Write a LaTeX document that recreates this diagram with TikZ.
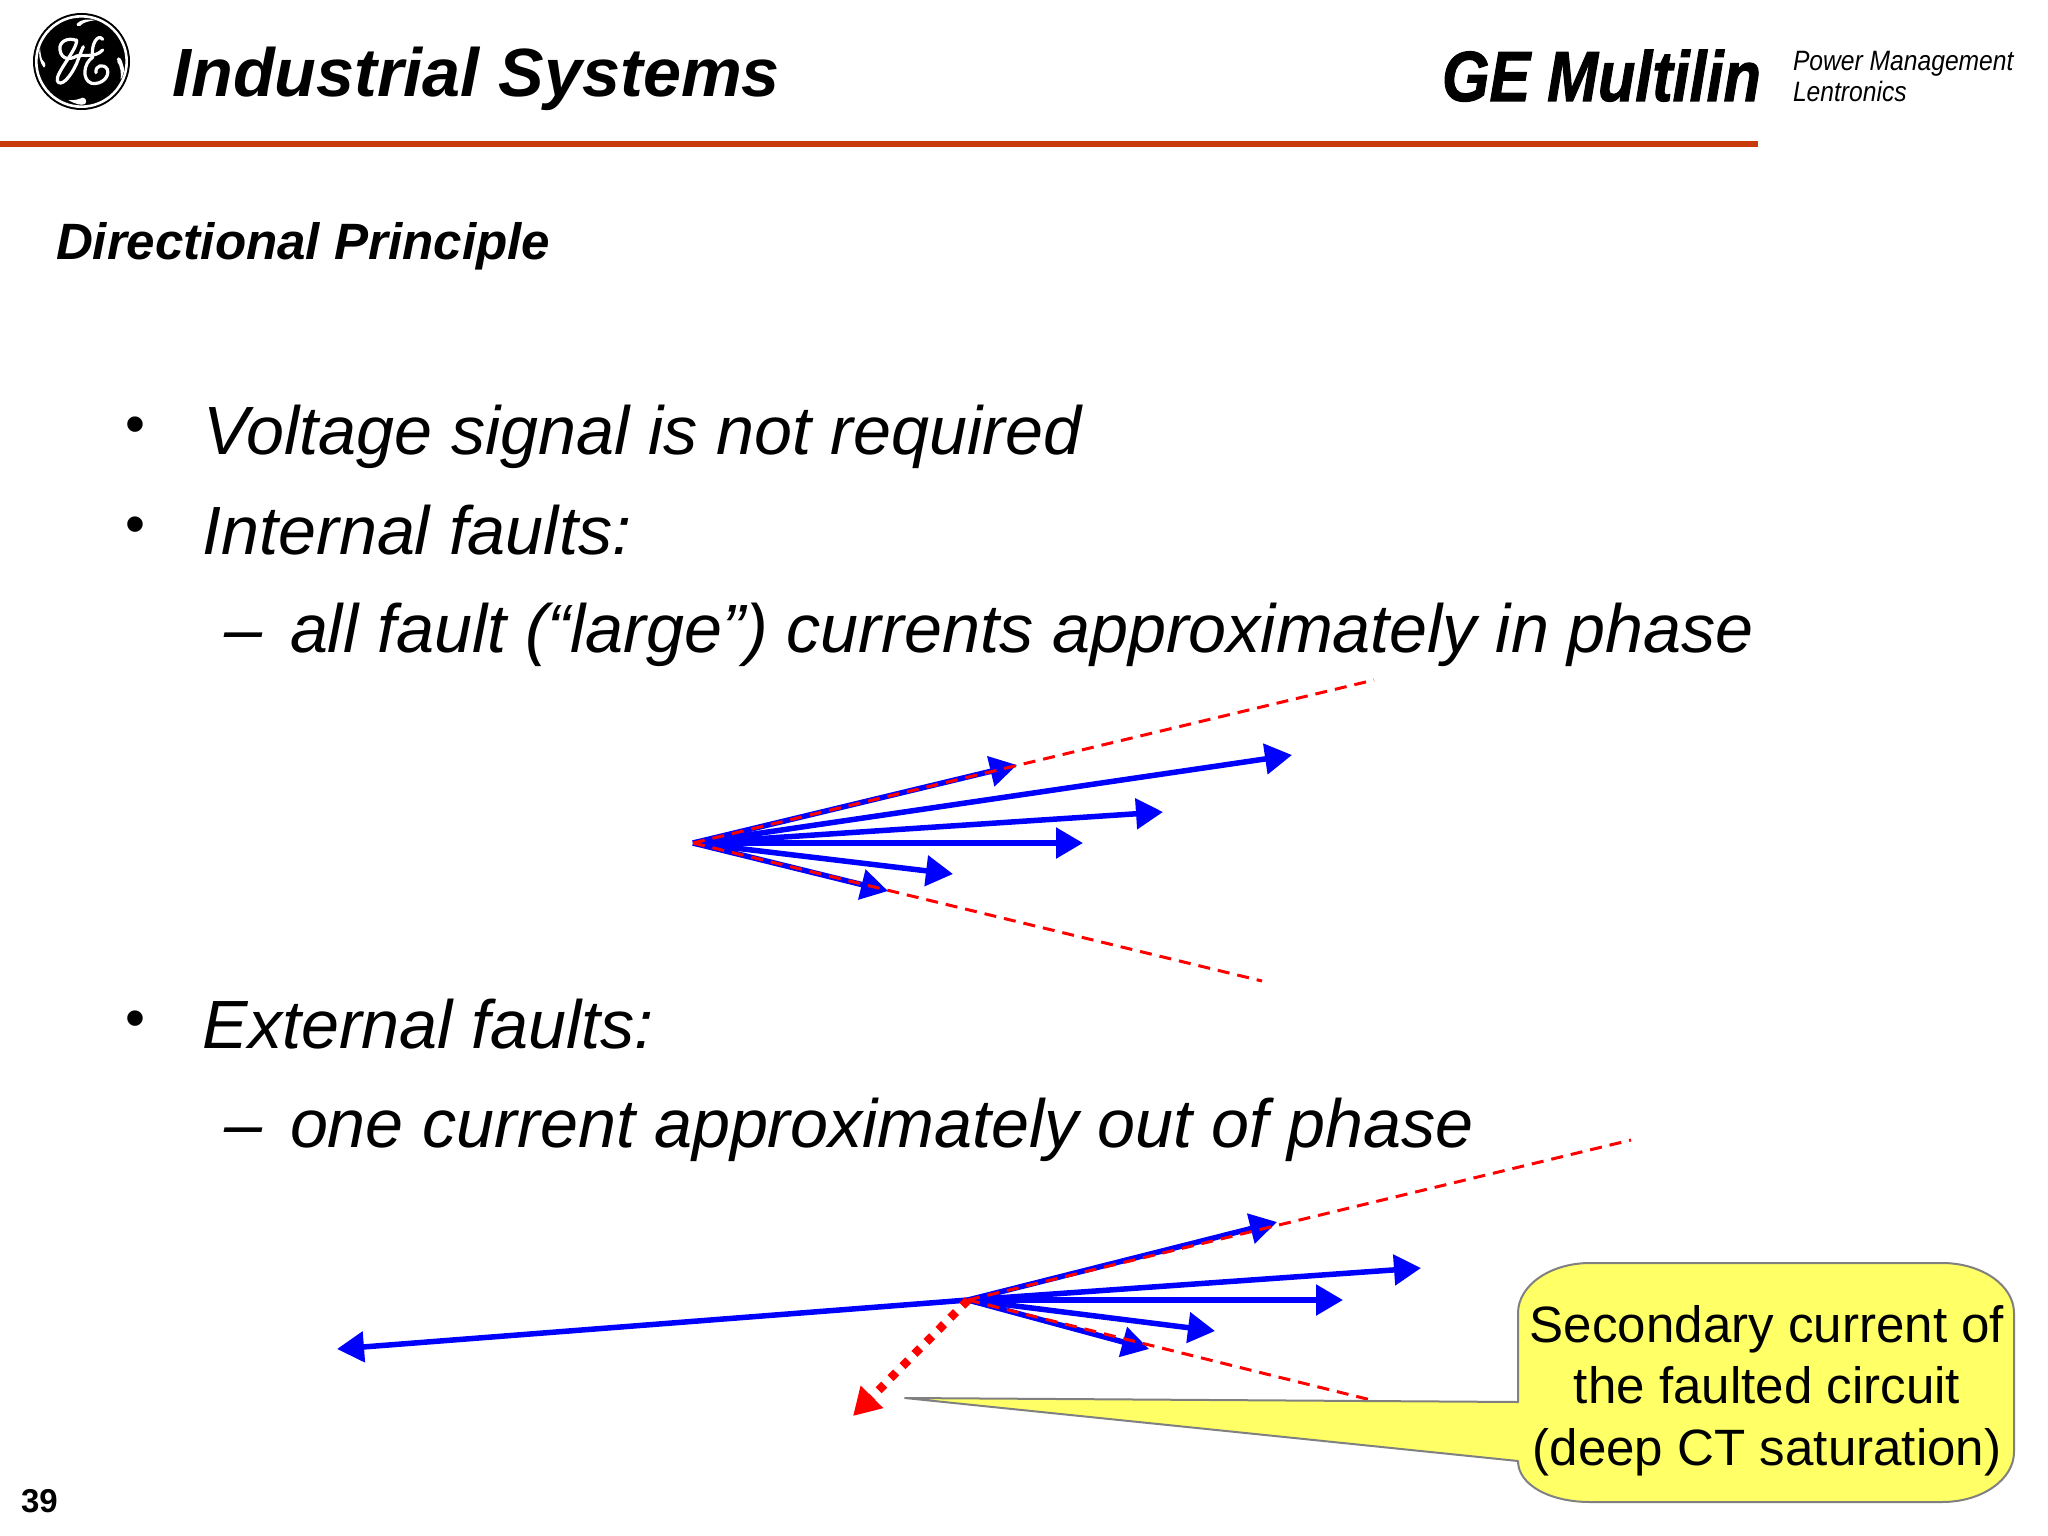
\documentclass[tikz,border=0pt]{standalone}
\usepackage{fontspec}
\usepackage{graphicx}
\setmainfont{Liberation Sans}
\newfontfamily\brandfont{Liberation Sans}[BoldItalicFeatures={FakeBold=1.5}]
\usetikzlibrary{arrows.meta}
\definecolor{rulered}{HTML}{C83C0C}
\definecolor{callyellow}{HTML}{FFFF66}
\definecolor{callgray}{HTML}{808080}
\tikzset{
  txt/.style={anchor=base west,inner sep=0pt,outer sep=0pt,text=black},
  vec/.style={draw=blue,line width=5.5pt,-{Triangle[length=27pt,width=30pt]}},
  bound/.style={draw=red,line width=3pt,dash pattern=on 12pt off 8pt},
  sat/.style={draw=red,line width=8.5pt,dash pattern=on 8pt off 9pt,-{Triangle[length=27pt,width=30pt]}},
  mono/.style={draw=white,line width=3.2pt,line cap=round,line join=round}
}
\newcommand{\fs}[1]{\fontsize{#1}{#1}\selectfont}
\begin{document}
\begin{tikzpicture}[x=1pt,y=-1pt]
\useasboundingbox (0,0) rectangle (2048,1536);
\fill[white] (0,0) rectangle (2048,1536);
% logo
\fill[black] (81.5,61.5) circle (48.5);
\draw[white,line width=2.6pt] (81.5,61.5) circle (45.2);
\begin{scope}[shift={(20,0)},x=0.3333pt,y=-0.3333pt]
 \draw[mono] (170,122) .. controls (145,110) and (115,125) .. (120,150) .. controls (125,180) and (150,180) .. (170,168);
 \draw[mono] (170,120) .. controls (172,150) and (105,220) .. (112,243) .. controls (122,262) and (150,235) .. (170,190) .. controls (178,170) and (185,150) .. (190,140);
 \draw[mono] (170,168) .. controls (190,162) and (225,175) .. (248,150);
 \draw[mono] (248,118) .. controls (235,100) and (212,130) .. (218,172) .. controls (190,190) and (185,240) .. (215,250) .. controls (245,255) and (270,230) .. (262,208) .. controls (252,190) and (225,195) .. (228,218);
 \fill[white] (170,72) .. controls (185,55) and (205,58) .. (228,60) .. controls (205,64) and (190,66) .. (180,78) .. controls (174,80) and (168,78) .. (170,72);
 \fill[white] (60,142) .. controls (54,165) and (60,190) .. (72,203) .. controls (82,195) and (72,185) .. (66,178) .. controls (62,165) and (61,155) .. (60,142);
 \fill[white] (295,172) .. controls (308,175) and (306,190) .. (312,205) .. controls (312,220) and (308,230) .. (302,238) .. controls (304,220) and (302,200) .. (292,185) .. controls (290,178) and (292,174) .. (295,172);
 \fill[white] (145,300) .. controls (165,302) and (175,298) .. (188,293) .. controls (198,294) and (202,305) .. (195,312) .. controls (185,318) and (165,312) .. (145,300);
\end{scope}
% header
\node[txt] (title) at (172.5,97) {\fs{68.3}\bfseries\itshape Industrial Systems};
\node[txt] (brand) at (1442,101) {\scalebox{0.86}[1]{\brandfont\fs{71}\bfseries\itshape GE Multilin}};
\node[txt] (pm) at (1793,71) {\scalebox{0.88}[1]{\fs{28}\itshape Power Management}};
\node[txt] (lent) at (1793,102) {\scalebox{0.88}[1]{\fs{28}\itshape Lentronics}};
\fill[rulered] (0,141.5) rectangle (1758,147);
\node[txt] (sub) at (56,259) {\fs{51.1}\bfseries\itshape Directional Principle};
% bullets
\node[txt] (b1) at (125,443) {\fs{57}\textbullet};
\node[txt] (t1) at (203.5,454.5) {\fs{68.25}\itshape Voltage signal is not required};
\node[txt] (b2) at (125,543) {\fs{57}\textbullet};
\node[txt] (t2) at (202.5,554) {\fs{68.25}\itshape Internal faults:};
\node[txt] (d3) at (224.5,652) {\fs{68.25}\itshape –};
\node[txt] (t3) at (290,652) {\fs{68.25}\itshape all fault (“large”) currents approximately in phase};
\node[txt] (b4) at (125,1037) {\fs{57}\textbullet};
\node[txt] (t4) at (202.5,1048) {\fs{68.25}\itshape External faults:};
\node[txt] (d5) at (224.5,1147) {\fs{68.25}\itshape –};
\node[txt] (t5) at (290,1147) {\fs{68.25}\itshape one current approximately out of phase};
% page number
\node[txt] (pg) at (21,1512) {\fs{33}\bfseries 39};
% fan 1
\coordinate (o1) at (693,843);
\coordinate (a1) at (1017,765);
\coordinate (a2) at (1292,755);
\coordinate (a3) at (1163,812);
\coordinate (a4) at (1083,843);
\coordinate (a5) at (953,874);
\coordinate (a6) at (888,891);
\coordinate (u1) at (1374,680);
\coordinate (l1) at (1262,981);
\foreach \t in {a1,a2,a3,a4,a5,a6} \draw[vec] (o1) -- (\t);
\draw[bound] (o1) -- (u1);
\draw[bound] (o1) -- (l1);
% fan 2
\coordinate (o2) at (968,1300);
\coordinate (c0) at (337,1349);
\coordinate (c1) at (1277,1222);
\coordinate (c2) at (1421,1268);
\coordinate (c3) at (1343,1300);
\coordinate (c4) at (1215,1331);
\coordinate (c5) at (1149,1349);
\coordinate (u2) at (1631,1140);
\coordinate (l2) at (1371,1400);
\coordinate (s2) at (853,1416);
\foreach \t in {c0,c1,c2,c3,c4,c5} \draw[vec] (o2) -- (\t);
\draw[bound] (o2) -- (u2);
\draw[bound] (o2) -- (l2);
\draw[sat] (o2) -- (s2);
% callout
\coordinate (tip) at (905,1398);
\draw[fill=callyellow,draw=callgray,line width=2pt,line join=round]
  (tip) -- (1518,1402) -- (1518,1313)
  .. controls (1518,1285.5) and (1550,1263) .. (1590,1263)
  -- (1942,1263)
  .. controls (1982,1263) and (2014,1285.5) .. (2014,1313)
  -- (2014,1452)
  .. controls (2014,1479.5) and (1982,1502) .. (1942,1502)
  -- (1590,1502)
  .. controls (1550,1502) and (1518,1485) .. (1518,1461)
  -- cycle;
\node[anchor=center,align=center,inner sep=0pt,font=\fontsize{51.1}{61.5}\selectfont] (ctext) at (1767,1390.5)
  {Secondary current of\\the faulted circuit\\(deep CT saturation)};
\end{tikzpicture}
\end{document}
